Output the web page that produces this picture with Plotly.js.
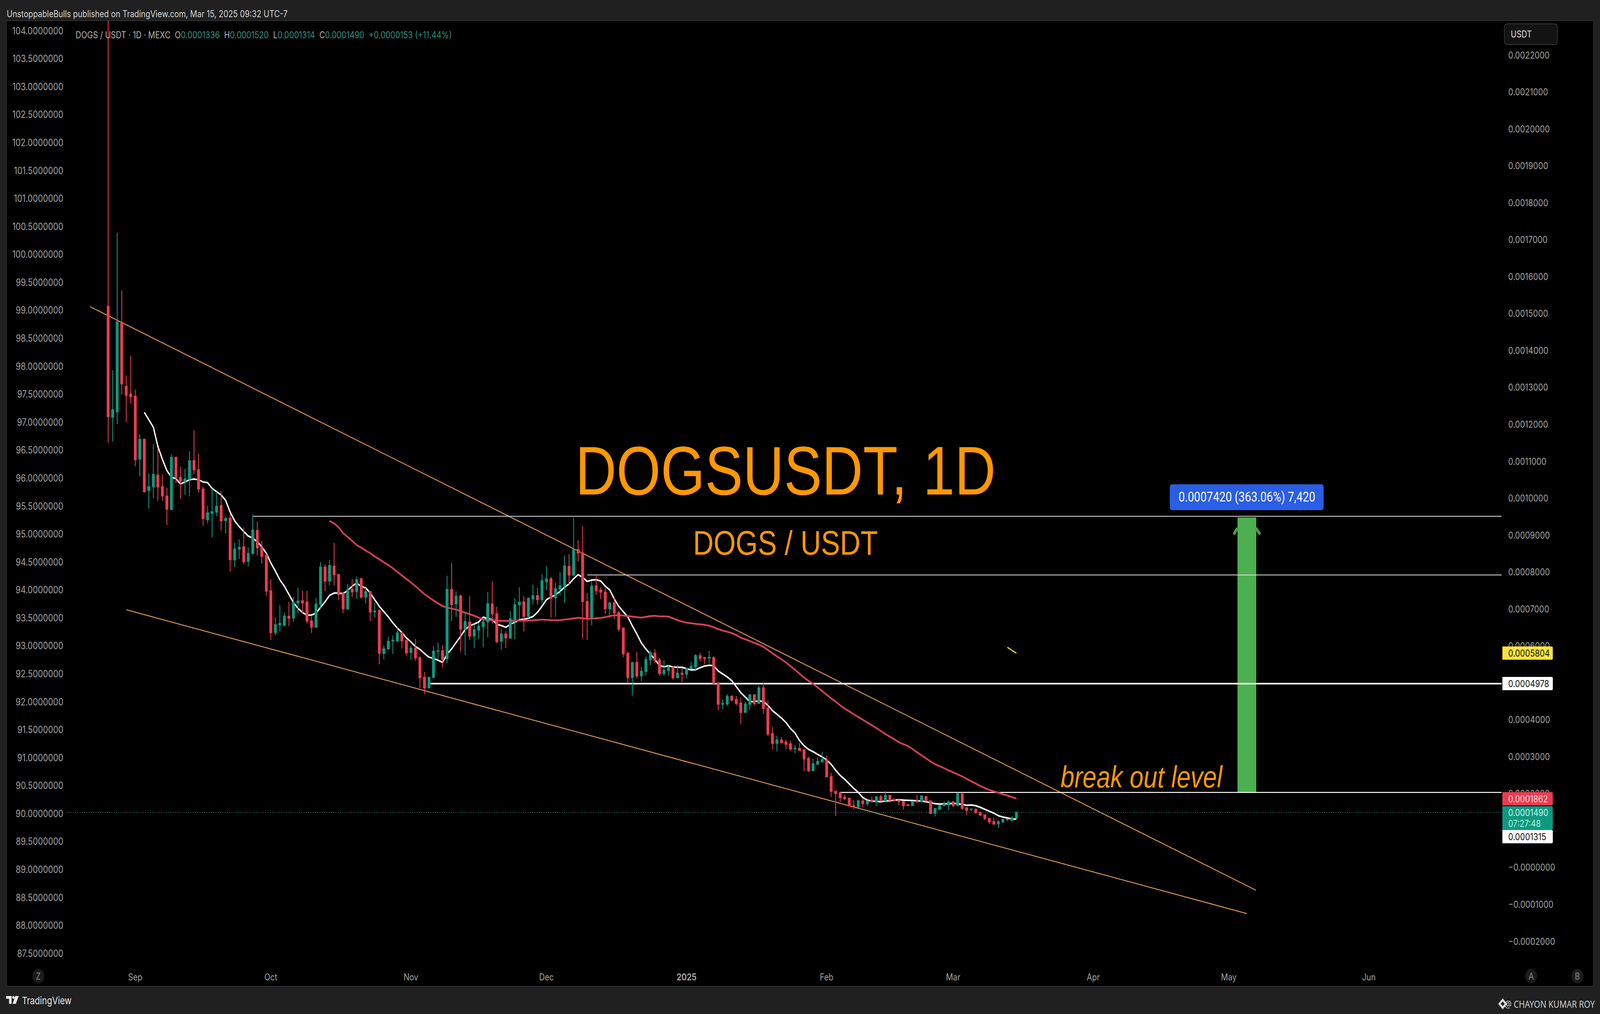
<!DOCTYPE html>
<html><head><meta charset="utf-8">
<script src="https://cdn.plot.ly/plotly-3.0.1.min.js"></script>
<style>html,body{margin:0;padding:0;background:#202020;overflow:hidden;width:100%;height:100%}#c{width:4950px;height:2596px;position:absolute;left:0;top:0;transform-origin:0 0}</style>
</head><body><div id="c"></div>
<script>
// Prices, in millionths of a USDT, one value per daily candle from 2024-08-26.
const firstDay = '2024-08-26';
const openMicro = [
1519.4,1219.4,1234.3,1476.4,1302.7,1281.7,1276.4,1106.2,1159.8,1021.2,
1030.8,1062.4,1030.8,1005.4,969.4,1110.6,1056.2,1045.7,1051.9,1101.9,
1077.3,1024.7,942.2,958.9,962.4,979.9,939.6,945.7,833.5,862.4,
868.6,829.1,850.1,912.4,866.8,844.9,749.3,636.1,657.2,656.3,
680.0,675.6,716.8,722.1,718.6,667.7,651.0,713.3,813.3,775.6,
816.0,793.1,741.4,700.1,752.8,747.5,781.7,732.6,746.6,692.5,
696.1,579.9,591.7,613.5,613.5,635.0,614.8,582.8,594.5,567.8,
514.8,486.4,514.8,585.2,586.4,565.4,752.8,714.0,735.4,645.5,
664.6,627.3,643.1,652.4,665.4,713.5,686.8,612.7,632.2,621.2,
672.7,711.9,719.2,680.3,727.3,736.2,725.3,774.2,781.5,730.5,
754.0,762.5,815.5,791.7,860.9,852.0,720.0,676.7,762.5,750.8,
745.5,700.6,716.0,690.0,648.4,579.5,514.8,555.3,519.2,531.0,
562.5,580.4,562.1,526.1,533.8,541.9,513.6,526.1,523.7,538.3,
543.5,573.5,568.2,567.0,567.8,498.6,442.3,443.2,463.4,454.5,
444.8,420.1,442.3,467.4,444.4,486.5,431.0,362.2,336.7,345.2,
339.5,334.7,321.7,322.5,318.5,295.4,262.2,280.0,286.9,291.4,
245.9,206.4,201.8,190.1,187.0,167.6,163.7,179.6,172.9,181.7,
177.8,191.2,180.6,195.4,183.8,181.3,178.5,169.3,167.9,179.9,
177.8,191.9,180.6,147.1,157.4,167.6,170.0,177.1,168.3,199.3,
161.6,157.4,157.4,149.2,142.5,132.7,124.2,118.2,123.5,130.6,
127.7,133.6];
const highMicro = [
2400,1346.6,1719.3,1562.3,1332.5,1386.0,1293.9,1172.9,1159.8,1067.7,
1146.6,1136.1,1064.1,1028.2,1118.5,1110.6,1085.2,1079.0,1127.3,1184.3,
1121.1,1030.8,979.9,1026.4,1017.7,1019.4,949.2,956.2,879.1,888.7,
920.3,866.8,956.2,937.0,884.3,849.3,780.8,677.4,710.7,690.5,
718.6,732.6,757.2,751.0,749.3,680.0,730.0,827.3,820.3,833.5,
879.1,794.0,746.6,767.7,780.8,787.9,783.5,757.2,748.4,715.9,
698.9,601.0,624.9,628.1,650.4,638.2,620.0,601.0,618.8,571.5,
529.8,514.8,599.4,609.1,601.8,790.0,824.5,747.5,738.6,692.9,
735.4,658.5,663.3,676.7,746.3,774.7,705.8,645.5,640.3,693.7,
729.3,758.9,734.6,731.3,766.6,757.7,794.1,816.4,787.2,771.8,
799.4,844.7,848.7,946.7,886.0,924.4,743.5,775.9,790.0,759.7,
756.5,719.2,729.3,694.9,649.6,584.8,557.3,584.4,543.1,571.5,
586.4,591.7,567.4,561.4,548.4,544.4,547.2,541.1,539.5,556.5,
577.9,581.6,569.9,586.9,571.9,502.7,455.3,469.5,466.6,464.2,
458.5,449.2,469.5,469.5,492.5,500.6,452.1,380.4,357.3,353.3,
346.0,344.0,331.8,337.9,318.5,299.4,294.2,298.2,313.6,302.7,
256.1,206.7,204.6,197.2,189.4,182.4,183.4,188.4,181.7,191.9,
191.9,197.2,206.4,196.5,187.7,185.9,178.9,172.5,179.6,196.5,
194.7,193.7,181.7,161.2,168.3,178.9,182.4,180.6,202.5,200.4,
163.0,160.2,159.5,150.3,143.2,133.7,135.5,127.7,131.3,132.0,
140.1,152.0];
const lowMicro = [
1151.0,1153.6,1201.0,1280.8,1206.2,1257.1,1086.1,1059.8,1015.0,971.2,
1000.1,993.1,993.1,927.3,967.7,1041.3,998.4,1008.9,1004.5,1064.1,
1015.9,924.7,931.7,894.0,951.9,912.4,903.6,801.0,813.3,835.2,
821.2,815.0,849.3,844.9,822.9,736.1,615.9,629.1,638.8,652.8,
653.7,665.1,688.8,688.8,660.7,635.2,649.3,701.9,748.4,763.3,
763.3,723.8,687.9,698.4,732.6,727.3,728.2,715.1,667.7,676.7,
550.0,563.3,589.7,578.3,613.1,592.9,573.5,563.3,560.5,486.4,
469.4,486.4,514.8,565.4,541.9,553.2,666.6,678.7,584.8,575.5,
616.0,593.7,618.0,595.8,622.9,660.5,606.7,589.7,594.5,620.0,
618.0,672.7,639.0,674.7,711.9,711.9,716.0,750.8,676.7,678.7,
736.2,715.9,763.7,790.0,828.5,620.0,616.0,655.6,738.2,726.5,
686.8,675.5,672.7,639.0,569.4,497.8,465.0,512.0,504.6,520.0,
548.0,553.2,518.8,519.3,519.3,508.7,512.8,501.9,512.0,537.1,
531.4,557.7,550.4,552.5,498.6,425.0,428.2,437.1,449.2,439.1,
388.5,420.1,427.0,439.1,444.0,415.6,356.1,319.7,314.4,335.9,
320.5,315.6,309.6,316.9,261.0,258.2,261.8,278.0,283.3,244.8,
191.2,139.4,177.1,183.1,165.8,158.1,163.7,163.7,166.5,174.3,
166.5,179.9,179.9,180.6,178.9,169.0,157.0,165.5,167.6,173.6,
177.1,178.9,144.7,138.3,157.0,165.8,155.2,163.7,165.5,156.7,
141.8,151.7,146.1,139.4,128.4,117.9,117.2,107.6,120.7,125.6,
127.7,131.4];
const closeMicro = [
1221.1,1239.6,1478.1,1309.7,1279.0,1274.6,1104.5,1158.9,1017.7,1030.8,
1064.1,1030.8,1006.3,970.3,1110.6,1056.2,1046.6,1051.9,1101.0,1077.3,
1024.7,944.9,959.8,963.3,978.2,938.7,944.9,833.5,862.4,866.8,
828.2,850.1,913.3,865.9,843.1,748.4,636.1,657.2,660.7,680.8,
674.7,716.8,721.2,716.8,667.7,651.0,713.3,813.3,775.6,817.7,
793.1,739.6,701.0,752.8,746.6,779.1,731.7,746.6,692.2,694.1,
580.4,592.1,612.3,615.2,635.0,613.9,581.6,593.3,567.8,514.0,
486.4,514.8,585.6,586.8,563.8,752.8,711.9,734.6,645.5,665.8,
626.9,643.5,653.2,664.6,713.9,686.8,611.9,632.2,622.0,673.5,
711.1,718.0,680.3,728.5,735.8,725.3,776.3,781.5,729.3,754.8,
762.9,816.4,792.1,861.7,851.6,720.4,677.9,761.7,749.6,745.5,
701.0,716.0,689.6,645.1,578.7,514.8,554.4,518.8,531.0,563.0,
581.6,561.3,525.7,533.8,541.5,514.0,526.1,523.3,538.3,544.4,
573.9,566.6,565.4,568.6,498.6,442.3,444.0,463.4,453.7,444.4,
420.1,442.3,467.4,444.0,486.5,430.6,361.4,336.3,345.2,338.7,
333.9,320.5,322.9,317.3,294.2,261.8,280.4,287.3,291.8,245.6,
206.0,200.7,189.4,185.9,166.5,163.7,180.6,173.6,179.9,179.9,
191.2,180.6,195.4,181.7,182.4,178.5,167.6,168.3,178.9,178.5,
193.7,180.6,146.1,159.5,167.6,171.8,177.1,168.3,199.7,160.2,
155.2,158.1,148.9,141.8,133.0,123.5,117.2,123.9,130.2,129.9,
134.1,149.0];
// White moving average, from candle 8 to the last candle.
const fastMaMicro = [
1232.5,1212.4,1192.2,1140.4,1105.4,1074.7,1057.1,1052.7,1038.7,1044.0,
1050.1,1051.9,1050.1,1044.0,1042.2,1026.4,1017.7,1008.9,994.0,962.4,
938.7,922.9,909.8,897.5,892.2,881.7,868.6,851.0,824.7,802.8,
779.1,761.6,739.6,717.7,701.9,690.5,683.5,683.5,688.8,704.5,
719.5,737.0,743.1,743.1,741.4,750.1,761.6,770.3,760.7,757.2,
743.1,725.3,707.1,692.9,678.7,662.5,648.4,636.2,622.0,610.7,
598.6,590.5,579.5,569.4,566.2,561.3,555.3,577.5,591.7,609.1,
626.1,644.3,654.4,659.3,664.6,677.9,673.5,671.4,658.5,655.2,
650.4,658.5,664.6,670.6,672.6,674.7,679.5,690.9,707.1,725.3,
732.2,738.6,747.6,758.9,767.8,781.9,792.9,786.0,774.7,778.3,
779.1,775.9,761.7,751.6,727.3,707.1,692.9,678.7,654.4,632.2,
607.9,591.7,577.5,563.3,547.2,543.1,546.4,543.1,542.3,541.9,
538.3,535.0,535.4,541.1,545.6,547.6,546.4,532.2,524.1,516.0,
505.9,489.7,473.5,461.4,449.2,449.2,451.3,449.2,439.1,424.9,
414.8,404.7,392.6,376.4,364.2,344.0,329.8,319.7,313.6,306.3,
299.4,291.4,279.4,263.5,249.4,238.8,226.5,214.1,203.5,189.4,
182.4,179.9,178.9,178.2,179.9,180.6,182.4,183.4,182.4,181.7,
181.3,180.6,179.9,178.2,175.3,172.9,171.8,172.2,172.9,173.6,
172.9,170.8,168.3,169.0,167.2,163.0,157.7,152.4,147.1,140.1,
136.6,134.1,131.3,131.3];
// Red moving average, from candle 49 to the last candle.
const slowMaMicro = [
938.7,931.7,921.2,905.4,894.9,884.3,872.9,865.9,858.0,851.0,841.9,
834.6,826.5,819.2,810.3,800.2,790.8,781.1,771.8,761.7,750.8,
740.2,731.3,723.2,715.2,707.9,703.8,701.0,698.1,694.1,690.1,
686.0,681.6,676.7,671.4,670.6,669.8,668.6,667.8,667.8,667.8,
668.6,668.6,668.2,668.6,669.4,670.2,671.4,670.6,669.8,669.4,
669.8,671.4,672.6,674.7,676.3,674.7,673.5,673.9,674.7,675.9,
677.9,680.7,682.8,683.2,682.0,680.7,679.5,677.9,676.7,678.7,
680.7,681.6,680.0,680.0,679.2,674.7,669.8,665.8,663.0,661.3,
659.7,658.5,656.9,654.9,650.4,645.6,641.5,638.3,635.0,629.4,
622.5,618.0,613.2,608.3,603.5,597.8,588.9,580.0,571.9,563.8,
555.3,545.2,535.4,524.9,514.0,505.5,497.4,487.7,477.6,467.5,
458.1,449.2,439.1,430.2,422.9,414.8,407.5,400.2,392.5,385.3,
377.6,369.5,361.4,354.0,347.0,339.3,334.0,328.7,321.0,311.8,
304.0,295.2,287.1,279.4,274.1,268.8,262.8,257.5,251.9,246.6,
239.9,233.5,227.2,220.8,215.2,209.9,206.0,202.5,198.3,194.7,
190.5,186.6];
// Yellow moving average: only its last three days are visible.
const yellowMaMicro = [596.3,588.0,580.4];

// Drawings
const upperTrendX = ['2024-08-22','2025-05-07'];
const upperTrendY = [0.0015187,-0.0000616];
const lowerTrendX = ['2024-08-30','2025-05-05'];
const lowerTrendY = [0.0006979,-0.0001249];
const levelEnd = '2025-06-30 09:36';
const levelStarts = ['2024-09-27','2024-12-10','2024-11-05','2025-02-04'];
const levelPrices = [0.000951,0.000792,0.0004978,0.0002031];
const levelWidths = [2,2,4,2.5];
const lastPrice = 0.000149;
const arrowDate = '2025-05-05';
const arrowPrices = [0.0002031,0.000948];

// Axis labels
const monthDates = ['2024-09-01','2024-10-01','2024-11-01','2024-12-01','2025-01-01','2025-02-01','2025-03-01','2025-04-01','2025-05-01','2025-06-01'];
const monthLabels = ['Sep','Oct','Nov','Dec','<b>2025</b>','Feb','Mar','Apr','May','Jun'];
const rightTickValues = [0.0022,0.0021,0.002,0.0019,0.0018,0.0017,0.0016,0.0015,0.0014,0.0013,0.0012,0.0011,0.001,0.0009,0.0008,0.0007,0.0006,0.0004,0.0003,0.0002,0,-0.0001,-0.0002];
const rightTickLabels = ['0.0022000','0.0021000','0.0020000','0.0019000','0.0018000','0.0017000','0.0016000','0.0015000','0.0014000','0.0013000','0.0012000','0.0011000','0.0010000','0.0009000','0.0008000','0.0007000','0.0006000','0.0004000','0.0003000','0.0002000','\u22120.0000000','\u22120.0001000','\u22120.0002000'];

// Layout in picture pixels
const L=205,R=4646,T=53,B=2470;
const fx=v=>(v-L)/(R-L), fy=v=>(B-v)/(B-T);
const FONT='Inter, sans-serif', ARIAL='"Liberation Sans", Arial, sans-serif';
const micro=a=>a.map(v=>v*1e-6);

const dates=[];
{const d0=new Date(firstDay+'T00:00:00Z');
 for(let i=0;i<openMicro.length;i++){dates.push(new Date(d0.getTime()+i*864e5).toISOString().slice(0,10));}}

function line(x,y,color,width,dash){return {type:'scatter',mode:'lines',x,y,line:{color,width,dash:dash||'solid',simplify:false},hoverinfo:'skip',showlegend:false,xaxis:'x',yaxis:'y'};}
const traces=[];
traces.push(line(upperTrendX,upperTrendY,'#d5914e',2.5));
traces.push(line(lowerTrendX,lowerTrendY,'#d5914e',2.5));
traces.push(line([arrowDate,arrowDate],arrowPrices,'#4caf50',58));
traces.push(line(['2025-05-02 02:00','2025-05-02 22:00'],[0.000902,0.000919],'#4c9c50',8));
traces.push(line(['2025-05-07 22:00','2025-05-07 00:00'],[0.000902,0.000919],'#4c9c50',8));
levelStarts.forEach((s,i)=>traces.push(line([s,levelEnd],[levelPrices[i],levelPrices[i]],i<2?'#e2e2e2':'#ffffff',levelWidths[i])));
traces.push(line(['2024-08-16 17:30',levelEnd],[lastPrice,lastPrice],'#2d8f7d',2,'2px,5px'));
traces.push(line(dates.slice(8),micro(fastMaMicro),'#ffffff',4));
traces.push(line(dates.slice(49),micro(slowMaMicro),'#d63f58',4.5));
traces.push(line(dates.slice(-3),micro(yellowMaMicro),'#f7dc3c',3));
traces.push({type:'scatter',mode:'lines',x:['2024-09-01'],y:[95],line:{width:0},hoverinfo:'skip',showlegend:false,xaxis:'x',yaxis:'y2'});
traces.push({type:'candlestick',x:dates,open:micro(openMicro),high:micro(highMicro),low:micro(lowMicro),close:micro(closeMicro),
  increasing:{line:{color:'#0f9980',width:2.5},fillcolor:'#0f9980'},
  decreasing:{line:{color:'#ee3b4f',width:2.5},fillcolor:'#ee3b4f'},
  whiskerwidth:0,hoverinfo:'skip',showlegend:false,xaxis:'x',yaxis:'y3'});

// shape helpers
function poly(pts){return 'M'+pts.map(p=>fx(p[0])+' '+fy(p[1])).join(' L')+' Z';}
function rrect(x0,y0,x1,y1,r,rl){
  const l=rl===undefined?r:rl, P=(x,y)=>fx(x)+' '+fy(y);
  return 'M'+P(x0+l,y0)+' L'+P(x1-r,y0)+' Q'+P(x1,y0)+' '+P(x1,y0+r)+' L'+P(x1,y1-r)+' Q'+P(x1,y1)+' '+P(x1-r,y1)+' L'+P(x0+l,y1)+(l?' Q'+P(x0,y1)+' '+P(x0,y1-l):'')+' L'+P(x0,y0+l)+(l?' Q'+P(x0,y0)+' '+P(x0+l,y0):'')+' Z';
}
function pathShape(path,fill,layer,border){return {type:'path',xref:'paper',yref:'paper',path,fillcolor:fill,line:{width:border?2:0,color:border||fill},layer:layer||'above'};}
function circle(cx,cy,r,fill){return {type:'circle',xref:'paper',yref:'paper',x0:fx(cx-r),x1:fx(cx+r),y0:fy(cy+r),y1:fy(cy-r),fillcolor:fill,line:{width:0},layer:'above'};}
const shapes=[
 {type:'rect',xref:'paper',yref:'paper',x0:fx(20),x1:fx(4930),y0:fy(2525),y1:fy(53),fillcolor:'#000000',line:{color:'#2e2e2e',width:2},layer:'below'},
 pathShape(rrect(3619,1240,4095,1306,8),'#2a5ee4'),
 pathShape(rrect(4648,1655,4804,1689,4,0),'#fbe33a'),
 pathShape(rrect(4648,1733,4804,1767,4,0),'#ffffff'),
 pathShape(rrect(4648,2028,4804,2062,4,0),'#ee3b4f'),
 pathShape(rrect(4648,2064,4804,2125,4,0),'#0f9980'),
 pathShape(rrect(4648,2125,4804,2159,4,0),'#ffffff'),
 pathShape(rrect(4654,61,4818,114,10),'#131313','above','#3a3a3a'),
 circle(118.6,2499,18.5,'#1b1b1b'),circle(4737,2499,18.5,'#1b1b1b'),circle(4880,2499,18.5,'#1b1b1b'),
 // TradingView mark
 pathShape(poly([[19,2550],[36,2550],[36,2570],[28,2570],[28,2557],[19,2557]]),'#ebebeb'),
 circle(41.5,2553.5,3.6,'#ebebeb'),
 pathShape(poly([[47,2550],[58,2550],[49,2570],[39,2570]]),'#ebebeb'),
 // Binance mark
 pathShape(poly([[4649,2556],[4659,2566],[4655,2570],[4649,2564],[4643,2570],[4639,2566]]),'#dcdcdc'),
 pathShape(poly([[4649,2584],[4659,2574],[4655,2570],[4649,2576],[4643,2570],[4639,2574]]),'#dcdcdc'),
 pathShape(poly([[4635,2570],[4639,2566],[4643,2570],[4639,2574]]),'#dcdcdc'),
 pathShape(poly([[4663,2570],[4659,2566],[4655,2570],[4659,2574]]),'#dcdcdc')
];

function note(x,y,text,size,color,anchor,family,extra){return Object.assign({xref:'paper',yref:'paper',x:fx(x),y:fy(y),text,showarrow:false,xanchor:anchor||'left',yanchor:'middle',align:anchor||'left',borderpad:0,font:{size,color,family:family||FONT}},extra||{});}
const G='#2a917f', N='#b4b4b4', S='\u00a0';
const sp=(c,t)=>'<span style="color:'+c+'">'+t+'</span>';
const annotations=[
 note(20,36,'UnstoppableBulls published on TradingView.com, Mar 15, 2025 09:32 UTC-7',24,'#d4d4d4'),
 note(233,90,sp(N,'DOGS / USDT · 1D · MEXC'+S+S)+sp(N,'O')+sp(G,'0.0001336'+S+S)+sp(N,'H')+sp(G,'0.0001520'+S+S)+sp(N,'L')+sp(G,'0.0001314'+S+S)+sp(N,'C')+sp(G,'0.0001490'+S+S)+sp(G,'+0.0000153 (+11.44%)'),24,N),
 note(2430,1205,'DOGSUSDT, 1D',176,'#ff9800','center',ARIAL),
 note(2430,1389,'DOGS / USDT',88,'#ff9800','center',ARIAL),
 note(3532,1989,'<i>break out level</i>',77,'#ff9800','center',ARIAL),
 note(3857,1273,'0.0007420 (363.06%) 7,420',34.7,'#ffffff','center','Roboto, sans-serif'),
 note(4665,1672,'0.0005804',24.5,'#111111'),
 note(4665,1750,'0.0004978',24.5,'#111111'),
 note(4665,2045,'0.0001862',24.5,'#ffe0e3'),
 note(4665,2080,'0.0001490',24.5,'#c4f7e9'),
 note(4665,2108,'07:27:48',24.5,'#a9f3df'),
 note(4665,2142,'0.0001315',24.5,'#111111'),
 note(4673,88,'USDT',24,'#e0e0e0'),
 note(118.6,2499,'Z',24,'#8a8a8a','center'),
 note(4737,2499,'A',24,'#8a8a8a','center'),
 note(4880,2499,'B',24,'#8a8a8a','center'),
 note(67,2562,'TradingView',26,'#e8e8e8'),
 note(4936,2570,'@ CHAYON KUMAR ROY',25,'#cfcfcf','right','"Noto Sans", sans-serif')
];

const rightRange=[-0.00026352,0.00229308];
const layout={
 width:4950,height:2596,autosize:false,
 margin:{l:L,r:4950-R,t:T,b:2596-B,pad:0},
 paper_bgcolor:'#202020',plot_bgcolor:'rgba(0,0,0,0)',
 showlegend:false,hovermode:false,boxgap:0.36,
 xaxis:{type:'date',range:['2024-08-16 17:30',levelEnd],tickmode:'array',tickvals:monthDates,ticktext:monthLabels,
   showgrid:false,zeroline:false,showline:false,ticks:'outside',ticklen:10,tickcolor:'rgba(0,0,0,0)',
   tickfont:{family:FONT,size:24,color:'#a3a3a3'},rangeslider:{visible:false},fixedrange:true},
 yaxis:{side:'right',range:rightRange,tickmode:'array',tickvals:rightTickValues,ticktext:rightTickLabels,
   showgrid:false,zeroline:false,showline:false,ticks:'outside',ticklen:14,tickcolor:'rgba(0,0,0,0)',
   tickfont:{family:FONT,size:24.5,color:'#a3a3a3'},fixedrange:true},
 yaxis2:{side:'left',overlaying:'y',range:[87.297,104.1816],tick0:0,dtick:0.5,tickformat:'.7f',
   showgrid:false,zeroline:false,showline:false,ticks:'outside',ticklen:3,tickcolor:'rgba(0,0,0,0)',
   tickfont:{family:FONT,size:25,color:'#a3a3a3'},fixedrange:true},
 yaxis3:{side:'right',overlaying:'y',range:rightRange,showticklabels:false,ticks:'',showgrid:false,zeroline:false,showline:false,fixedrange:true},
 shapes,annotations
};
// The browser window can be narrower than the 4950-wide picture: fit the whole chart into it.
Plotly.newPlot('c',traces,layout,{displayModeBar:false,staticPlot:true}).then(()=>{
  const c=document.getElementById('c');
  c.style.transform='scale('+(window.innerWidth/4950)+','+(window.innerHeight/2596)+')';
});
</script></body></html>
